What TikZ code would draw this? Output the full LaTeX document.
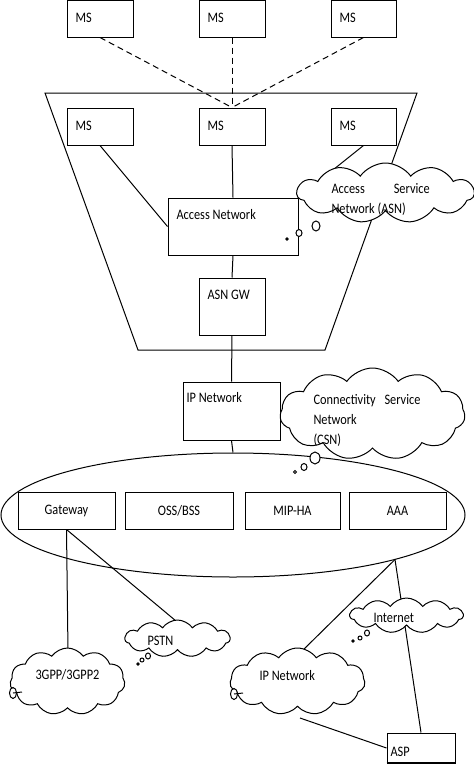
\documentclass[tikz,border=0pt]{standalone}
\usepackage{fontspec}
\setmainfont{Carlito}[FakeStretch=0.85]
\usetikzlibrary{shapes}
\tikzset{unit/.style={draw,rectangle,inner sep=0pt,fill=white}}
\tikzset{net/.style={draw,cloud,cloud puffs=11,cloud puff arc=110,fill=white,inner sep=0pt}}
\tikzset{txt/.style={draw=none,inner sep=0pt,anchor=west,align=left}}
\tikzset{bubble/.style={draw,ellipse,inner sep=0pt,fill=white}}
\tikzset{radio/.style={dash pattern=on 6pt off 4pt}}

\begin{document}
\begin{tikzpicture}[x=1pt,y=-1pt,font=\fontsize{14.5}{20}\selectfont,line width=1pt]
\useasboundingbox (0,0) rectangle (474,764);

% access service network frame
\draw (45,93) -- (417,93) -- (325,350) -- (138,350) -- cycle;

% mobile stations
\node[unit,minimum width=66pt,minimum height=37pt] (ms1) at (100,18.5) {};
\node[unit,minimum width=66pt,minimum height=37pt] (ms2) at (232,18.5) {};
\node[unit,minimum width=65pt,minimum height=37pt] (ms3) at (363.5,18.5) {};
\foreach \m in {ms1,ms2,ms3}
  \draw[line width=3pt] (\m.north west) -- (\m.north east);
\node[txt] (ms1t) at (75,18) {MS};
\node[txt] (ms2t) at (207,18) {MS};
\node[txt] (ms3t) at (339,18) {MS};

\node[unit,minimum width=66pt,minimum height=37pt] (ms4) at (100,126.5) {};
\node[unit,minimum width=66pt,minimum height=37pt] (ms5) at (232,126.5) {};
\node[unit,minimum width=65pt,minimum height=37pt] (ms6) at (363.5,126.5) {};
\node[txt] (ms4t) at (75,126) {MS};
\node[txt] (ms5t) at (207,126) {MS};
\node[txt] (ms6t) at (339,126) {MS};

\draw[radio] (ms1.south) -- (ms5.north);
\draw[radio] (ms2.south) -- (ms5.north);
\draw[radio] (ms3.south) -- (ms5.north);

\node[unit,minimum width=130pt,minimum height=57pt] (an) at (233,226.5) {};
\node[txt] (ant) at (176,215) {Access Network};
\draw (ms4.south) -- (an.west);
\draw (ms5.south) -- (an.north);
\draw (ms6.south) -- (an.north east);

\node[unit,minimum width=66pt,minimum height=57pt] (gw) at (232,306.5) {};
\node[txt] (gwt) at (207,295) {ASN GW};
\draw (an.south) -- (gw.north);

% connectivity service network
\node[unit,minimum width=97pt,minimum height=58pt] (ipn) at (231.5,411) {};
\node[txt] (ipnt) at (186,398) {IP Network};
\draw (gw.south) -- (ipn.north);

\node[draw,ellipse,minimum width=464pt,minimum height=124pt] (csn) at (233,515) {};
\draw (ipn.south) -- (csn.north);
\coordinate (out) at (395,559.5);

\node[unit,minimum width=97pt,minimum height=37pt] (gtw) at (66.5,510.5) {Gateway};
\node[unit,minimum width=108pt,minimum height=37pt] (oss) at (179,510.5) {OSS/BSS};
\node[unit,minimum width=95pt,minimum height=37pt] (mip) at (292.5,510.5) {MIP-HA};
\node[unit,minimum width=97pt,minimum height=37pt] (aaa) at (397.5,510.5) {AAA};

\node[unit,minimum width=68pt,minimum height=30pt] (asp) at (421,748) {};
\draw[line width=2.5pt] (asp.south west) -- (asp.south east);
\node[txt] (aspt) at (390,752) {ASP};

\draw (out) -- (asp.north);
\draw (gtw.south) -- (68,652);
\draw (gtw.south) -- (176,621);
\draw (out) -- (300,653);
\draw (300,718) -- (asp.west);

% clouds
\node[net,minimum width=177pt,minimum height=60pt] (asn) at (385.5,193) {};
\node[txt] (asnt) at (331,200) {Access\hspace{2em}Service\\Network (ASN)};
\node[net,minimum width=185pt,minimum height=92pt] (csnc) at (372.5,414) {};
\node[txt] (csnt) at (313,420) {Connectivity\hspace{0.6em}Service\\Network\\(CSN)};
\node[net,minimum width=115pt,minimum height=67pt] (tgpp) at (67.5,681.5) {};
\node[txt] (tgppt) at (35,675) {3GPP/3GPP2};
\node[net,minimum width=105pt,minimum height=37pt] (pstn) at (177.5,638.5) {};
\node[txt] (pstnt) at (147,641) {PSTN};
\node[net,minimum width=135pt,minimum height=67pt] (ipc) at (297.5,681.5) {};
\node[txt] (ipct) at (259,676) {IP Network};
\node[net,minimum width=113pt,minimum height=35pt] (inet) at (406.5,615.5) {};
\node[txt] (inett) at (373,618) {Internet};

% thought bubbles
\node[bubble,fill=black,minimum size=2.5pt] (b1) at (287,239) {};
\node[bubble,minimum width=6pt,minimum height=7pt] (b2) at (299,233) {};
\node[bubble,minimum width=8pt,minimum height=10pt] (b3) at (316,226) {};
\node[bubble,minimum size=3pt] (b4) at (295,472) {};
\node[bubble,minimum width=6pt,minimum height=7pt] (b5) at (304,467) {};
\node[bubble,minimum width=10pt,minimum height=12pt] (b6) at (315,458) {};
\node[bubble,fill=black,minimum size=2.5pt] (b7) at (138,664) {};
\node[bubble,minimum size=4pt] (b8) at (142,660) {};
\node[bubble,minimum width=5pt,minimum height=6pt] (b9) at (148,656) {};
\node[bubble,fill=black,minimum size=2.5pt] (b10) at (353,641) {};
\node[bubble,minimum size=4pt] (b11) at (360,638) {};
\node[bubble,minimum width=5pt,minimum height=6pt] (b12) at (367,633) {};

% eyes
\node[bubble,minimum width=7pt,minimum height=11pt] (e1) at (13,693) {};
\draw (e1.center) -- (22,692);
\node[bubble,minimum width=7pt,minimum height=11pt] (e2) at (234,694) {};
\draw (e2.center) -- (243,693);
\end{tikzpicture}
\end{document}
